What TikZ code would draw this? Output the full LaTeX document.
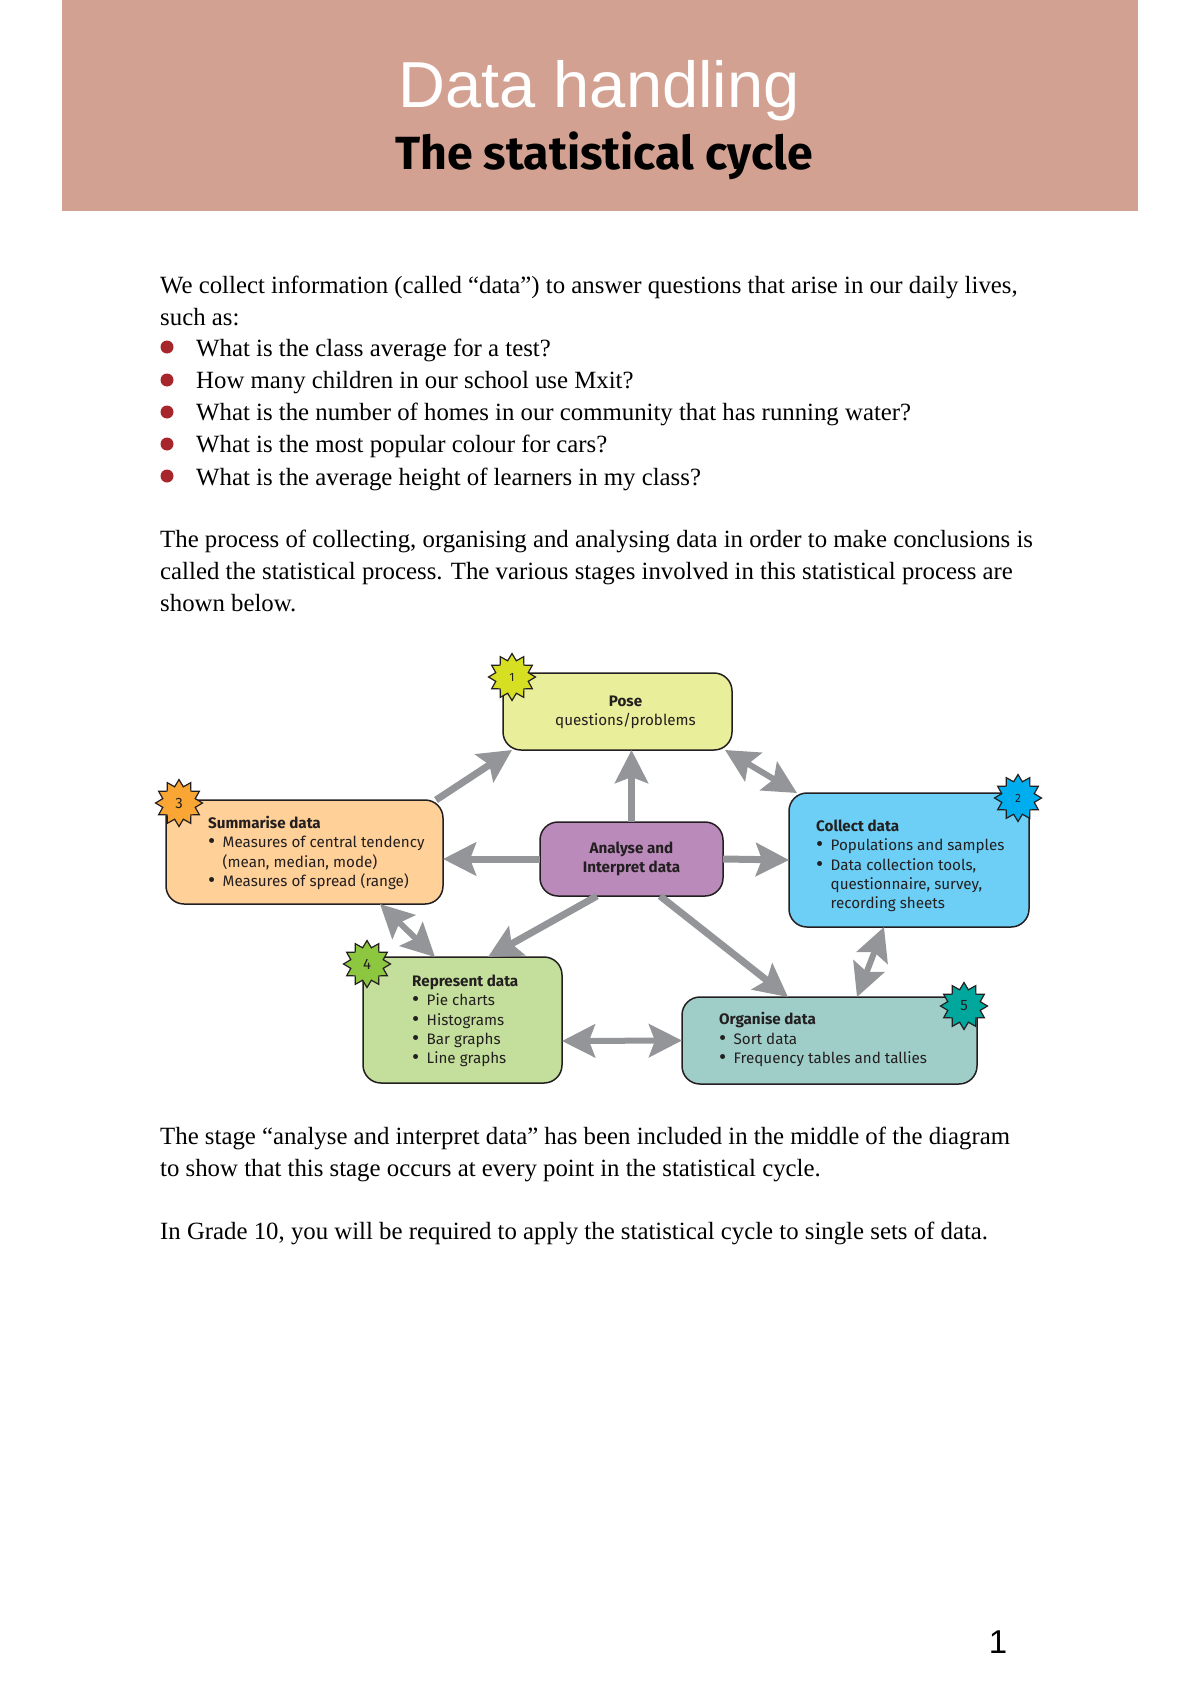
\documentclass[tikz,border=0pt]{standalone}
\usepackage{fontspec}
\setmainfont{Liberation Serif}
\setsansfont{Fira Sans}
\newfontfamily\bannerfont{Liberation Sans}
\usetikzlibrary{arrows.meta,shapes.geometric}
\definecolor{SCBanner}{HTML}{D3A191}
\definecolor{SCInk}{HTML}{231F20}
\definecolor{SCArrow}{HTML}{939598}
\definecolor{SCBullet}{HTML}{A6262B}
\definecolor{SCPose}{HTML}{E8EE9A}
\definecolor{SCCollect}{HTML}{6DCFF6}
\definecolor{SCSummarise}{HTML}{FFD097}
\definecolor{SCRepresent}{HTML}{C4DF9B}
\definecolor{SCOrganise}{HTML}{9FCDC8}
\definecolor{SCAnalyse}{HTML}{BA8ABB}
\definecolor{SCStarA}{HTML}{D7DF23}
\definecolor{SCStarB}{HTML}{00AEEF}
\definecolor{SCStarC}{HTML}{FAA635}
\definecolor{SCStarD}{HTML}{8DC63F}
\definecolor{SCStarE}{HTML}{00A79D}
\newcommand{\boxitem}[1]{\makebox[14.5pt][l]{\raisebox{-1pt}{\fontsize{22}{19}\selectfont\textbullet}}#1}
\tikzset{
  flow/.style={-{Stealth[length=33pt,width=33pt,inset=6pt]},SCArrow,line width=7pt},
  flowboth/.style={flow,{Stealth[length=33pt,width=33pt,inset=6pt]}-{Stealth[length=33pt,width=33pt,inset=6pt]},line width=6pt},
  card/.style={draw=SCInk,line width=1.5pt,rounded corners=18pt,inner sep=0pt,outer sep=0pt},
  cardtext/.style={text=SCInk,inner sep=0pt,align=left,font=\sffamily\fontsize{15.2}{19.2}\selectfont},
  burst/.style={star,star points=12,star point ratio=1.4,draw=SCInk,line width=1.2pt,
                minimum size=47pt,inner sep=0pt,outer sep=0pt,text=SCInk,
                font=\sffamily\fontsize{15}{15}\selectfont},
  burstsmall/.style={burst,font=\sffamily\fontsize{12}{12}\selectfont},
  para/.style={anchor=west,inner sep=0pt,align=left,text=black,font=\fontsize{24.8}{32}\selectfont},
  bullet/.style={circle,fill=SCBullet,minimum size=13pt,inner sep=0pt},
}
\begin{document}
\begin{tikzpicture}[x=1pt,y=-1pt]
    \useasboundingbox (0,0) rectangle (1200,1696);
    \fill[SCBanner] (62,0) rectangle (1138,211);
    \node[text=white,inner sep=0pt,font=\bannerfont\fontsize{65}{70}\selectfont] (title) at (599,91) {Data handling};
    \node[text=black,inner sep=0pt,font=\sffamily\bfseries\fontsize{46.5}{50}\selectfont] (subtitle) at (604,156) {The statistical cycle};

    \node[para] (intro) at (160,300.5) {We collect information (called “data”) to answer questions that arise in our daily lives,\\such as:};
    \node[bullet] (bulleta) at (167,347) {};
    \node[para] (itema) at (196,350.5) {What is the class average for a test?};
    \node[bullet] (bulletb) at (167,380) {};
    \node[para] (itemb) at (196,382.5) {How many children in our school use Mxit?};
    \node[bullet] (bulletc) at (167,412) {};
    \node[para] (itemc) at (196,414.5) {What is the number of homes in our community that has running water?};
    \node[bullet] (bulletd) at (167,444) {};
    \node[para] (itemd) at (196,446.5) {What is the most popular colour for cars?};
    \node[bullet] (bullete) at (167,476) {};
    \node[para] (iteme) at (196,479.5) {What is the average height of learners in my class?};
    \node[para] (process) at (160,571) {The process of collecting, organising and analysing data in order to make conclusions is\\called the statistical process. The various stages involved in this statistical process are\\shown below.};

    \node[card,fill=SCPose,minimum width=229pt,minimum height=77pt] (pose) at (617.5,711.5) {};
    \node[card,fill=SCCollect,minimum width=240pt,minimum height=134pt] (collect) at (909,860) {};
    \node[card,fill=SCSummarise,minimum width=277pt,minimum height=104pt] (summarise) at (304.5,852) {};
    \node[card,fill=SCRepresent,minimum width=199pt,minimum height=126pt] (represent) at (462.5,1020) {};
    \node[card,fill=SCOrganise,minimum width=295pt,minimum height=87pt] (organise) at (829.5,1040.5) {};
    \node[card,fill=SCAnalyse,minimum width=183pt,minimum height=74pt] (analyse) at (631.5,859) {};

    \node[cardtext,align=center] (posetext) at ([xshift=8,yshift=-1]pose.center) {\textbf{Pose}\\questions/problems};
    \node[cardtext,align=center] (analysetext) at (analyse.center) {\textbf{Analyse and}\\\textbf{Interpret data}};
    \node[cardtext,anchor=west] (collecttext) at ([xshift=27,yshift=-6]collect.west)
      {\textbf{Collect data}\\\boxitem{Populations and samples}\\\boxitem{Data collection tools,}\\\hspace*{14.5pt}questionnaire, survey,\\\hspace*{14.5pt}recording sheets};
    \node[cardtext,anchor=west] (summarisetext) at ([xshift=42,yshift=-1]summarise.west)
      {\textbf{Summarise data}\\\boxitem{Measures of central tendency}\\\hspace*{14.5pt}(mean, median, mode)\\\boxitem{Measures of spread (range)}};
    \node[cardtext,anchor=west] (representtext) at ([xshift=49,yshift=-1]represent.west)
      {\textbf{Represent data}\\\boxitem{Pie charts}\\\boxitem{Histograms}\\\boxitem{Bar graphs}\\\boxitem{Line graphs}};
    \node[cardtext,anchor=west] (organisetext) at ([xshift=37,yshift=1]organise.west)
      {\textbf{Organise data}\\\boxitem{Sort data}\\\boxitem{Frequency tables and tallies}};

    \node[burstsmall,fill=SCStarA] (stara) at (512,677) {1};
    \node[burstsmall,fill=SCStarB] (starb) at (1018,798) {2};
    \node[burst,fill=SCStarC] (starc) at (179,803) {3};
    \node[burst,fill=SCStarD] (stard) at (367,964) {4};
    \node[burst,fill=SCStarE] (stare) at (964,1006) {5};

    \draw[flow] ([xshift=-7]summarise.north east) -- ([xshift=9]pose.south west);
    \draw[flow] (analyse.north) -- ([xshift=14]pose.south);
    \draw[flow] (analyse.west) -- ([yshift=-7]summarise.east);
    \draw[flow] (analyse.east) -- (collect.west);
    \draw[flow] ([xshift=57]analyse.south west) -- ([xshift=125]represent.north west);
    \draw[flow] ([xshift=120]analyse.south west) -- ([xshift=106]organise.north west);
    \draw[flowboth] ([xshift=-7]pose.south east) -- ([xshift=8]collect.north west);
    \draw[flowboth] ([xshift=214]summarise.south west) -- ([xshift=72]represent.north west);
    \draw[flowboth] ([xshift=95]collect.south west) -- ([xshift=175]organise.north west);
    \draw[flowboth] ([yshift=-21]represent.east) -- (organise.west);

    \node[para] (closing) at (160,1154) {The stage “analyse and interpret data” has been included in the middle of the diagram\\to show that this stage occurs at every point in the statistical cycle.};
    \node[para] (grade) at (160,1233) {In Grade 10, you will be required to apply the statistical cycle to single sets of data.};
    \node[inner sep=0pt,font=\bannerfont\fontsize{33}{36}\selectfont] (pagenumber) at (998,1642) {1};
  \end{tikzpicture}
\end{document}
